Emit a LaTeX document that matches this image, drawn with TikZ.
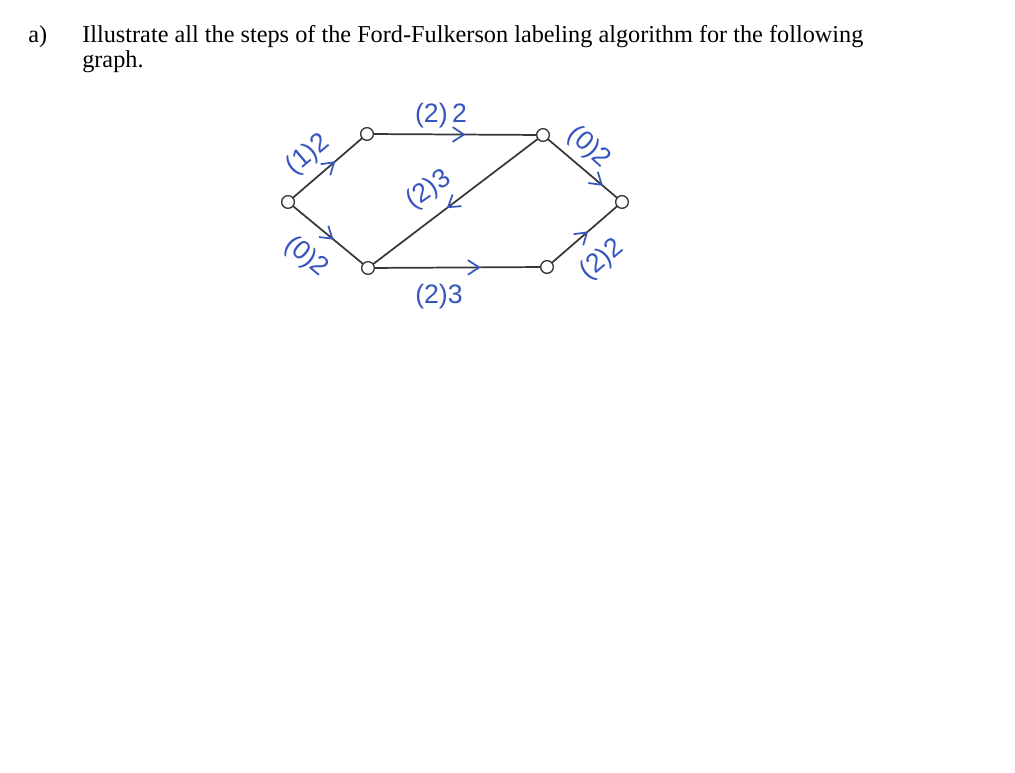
\documentclass[tikz,border=0pt]{standalone}
\usepackage{fontspec}
\setmainfont{Liberation Serif}
\newfontfamily\handfont{Liberation Sans}
\usetikzlibrary{arrows.meta,decorations.markings}
\definecolor{pen}{RGB}{55,85,190}
\definecolor{edgegray}{RGB}{55,55,55}
\tikzset{
  vert/.style={circle,draw=edgegray,fill=white,line width=1pt,minimum size=9.5pt,inner sep=0pt},
  edg/.style={draw=edgegray,line width=1.3pt},
  midarrow/.style={postaction={decorate,decoration={markings,
      mark=at position #1 with {\arrow[pen,line width=1.3pt]{Straight Barb[length=8.5pt,width=11pt]}}}}},
  lab/.style={text=pen,font=\handfont\fontsize{20}{20}\selectfont,inner sep=0pt},
  title/.style={font=\fontsize{18.2}{20}\selectfont,anchor=base west,inner sep=0pt}
}
\begin{document}
\begin{tikzpicture}[x=0.75pt,y=-0.75pt]
\useasboundingbox (0,0) rectangle (1015,773);
\node[title] (qa) at (28,43) {a)};
\node[title] (q1) at (82,43) {Illustrate all the steps of the Ford-Fulkerson labeling algorithm for the following};
\node[title] (q2) at (82,68) {graph.};

\coordinate (sp) at (288,202);
\coordinate (ap) at (367,134);
\coordinate (bp) at (543,135);
\coordinate (tp) at (622,202);
\coordinate (cp) at (368,268);
\coordinate (dp) at (547,267);

\draw[edg,midarrow=0.6] (sp) -- (ap);
\draw[edg,midarrow=0.56] (ap) -- (bp);
\draw[edg,midarrow=0.76] (bp) -- (tp);
\draw[edg,midarrow=0.57] (sp) -- (cp);
\draw[edg,midarrow=0.55] (bp) -- (cp);
\draw[edg,midarrow=0.63] (cp) -- (dp);
\draw[edg,midarrow=0.55] (dp) -- (tp);

\node[vert] (s) at (sp) {};
\node[vert] (a) at (ap) {};
\node[vert] (b) at (bp) {};
\node[vert] (t) at (tp) {};
\node[vert] (c) at (cp) {};
\node[vert] (d) at (dp) {};

\node[lab,rotate=40] (l1) at (308,155) {(1)2};
\node[lab] (l2) at (441,116) {(2)\,2};
\node[lab,rotate=-42] (l3) at (589,147) {(0)2};
\node[lab,rotate=35] (l4) at (429,190) {(2)3};
\node[lab,rotate=-40] (l5) at (306,257) {(0)2};
\node[lab] (l6) at (439,297) {(2)3};
\node[lab,rotate=40] (l7) at (602,260) {(2)2};
\end{tikzpicture}
\end{document}
